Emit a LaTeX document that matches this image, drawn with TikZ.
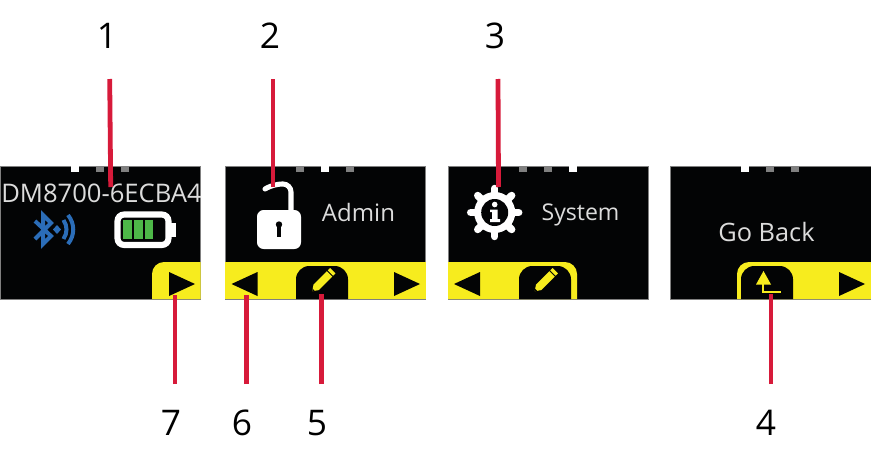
\documentclass[tikz,border=0pt]{standalone}
\usepackage{fontspec}
\setmainfont{Open Sans}
\definecolor{scr}{HTML}{030405}
\definecolor{ylw}{HTML}{F7EC1E}
\definecolor{redl}{HTML}{D71A3A}
\definecolor{dotg}{HTML}{808080}
\definecolor{txtg}{HTML}{DCDCDC}
\definecolor{blu}{HTML}{2B6DB8}
\definecolor{grn}{HTML}{4DB848}
\tikzset{
 screen/.style={fill=scr,draw=dotg,line width=0.4pt},
 dotw/.style={fill=white},
 dotgr/.style={fill=dotg},
 leader/.style={draw=redl,line width=3.6pt},
 num/.style={font=\fontsize{26.5}{30}\selectfont,text=black,inner sep=0pt},
 scrtxt/.style={text=txtg,inner sep=0pt,anchor=center},
 btline/.style={blu,line width=3pt},
}
\begin{document}
\begin{tikzpicture}[x=0.75pt,y=-0.75pt]
\useasboundingbox (0,0) rectangle (871,464);
\def\topdots#1#2#3#4{%
 \fill[#2] (#1,166) rectangle ++(8.4,6);
 \fill[#3] (#1+25,166) rectangle ++(8.4,6);
 \fill[#4] (#1+50,166) rectangle ++(8.4,6);}
\def\rtri#1{\fill[scr] (#1,272) -- (#1+26,284) -- (#1,296) -- cycle;}
\def\ltri#1{\fill[scr] (#1+26,272) -- (#1,284) -- (#1+26,296) -- cycle;}
\def\blacktab#1{\fill[scr] (#1,299) [rounded corners=10pt] -- (#1,266) -- (#1+52,266) [sharp corners] -- (#1+52,299) -- cycle;}
\def\pencil#1{\begin{scope}[shift={(#1,281)},rotate=45]
 \fill[ylw] (-14.5,0) -- (-9,-3.8) -- (10,-3.8) -- (10,3.8) -- (-9,3.8) -- cycle;
 \fill[ylw] (11.3,-3.8) rectangle (14.5,3.8);
 \fill[scr] (-14.5,0) -- (-12.5,-1.4) -- (-12.5,1.4) -- cycle;
 \end{scope}}
% screen 1
\draw[screen] (0,166) rectangle (200.5,299);
\topdots{71}{dotw}{dotgr}{dotgr}
\fill[ylw] (152,299) [rounded corners=9pt] -- (152,262) [sharp corners] -- (200.5,262) -- (200.5,299) -- cycle;
\rtri{169}
\node[scrtxt,font=\fontsize{19.2}{22}\selectfont] (t1) at (101.5,193) {DM8700-6ECBA4};
% bluetooth
\draw[btline,line join=miter] (35,221) -- (51,236) -- (43,244) -- (43,215) -- (51,223) -- (35,239);
\fill[blu] (57,225) -- (61,229.5) -- (57,234) -- (53,229.5) -- cycle;
\draw[btline] (63.5,220) .. controls (67.5,226) and (67.5,233) .. (63.5,239);
\draw[btline] (68,215) .. controls (75,224) and (75,235) .. (68,244);
% battery
\draw[white,line width=4.6pt,rounded corners=5pt] (117.5,214.5) rectangle (168.5,245);
\fill[white] (170,223) rectangle (175.5,237);
\fill[grn] (123,220) rectangle (132,239);
\fill[grn] (134,220) rectangle (142.5,239);
\fill[grn] (144.5,220) rectangle (153,239);
% screen 2
\draw[screen] (225.3,166) rectangle (425.7,299);
\topdots{296}{dotgr}{dotw}{dotgr}
\fill[ylw] (225.3,262) rectangle (425.7,299);
\blacktab{296}
\ltri{231.5}\rtri{394}
\pencil{322.5}
\fill[white,rounded corners=5pt] (257,210) rectangle (301,249);
\draw[white,line width=3.8pt,line cap=round,rounded corners=6pt] (291,212) -- (291,184) -- (274,184) -- (265,189);
\fill[scr] (279,224.5) circle (3.2);
\fill[scr] (277.3,225) rectangle (280.7,237);
\node[scrtxt,font=\fontsize{18}{20}\selectfont] (t2) at (358.5,212) {Admin};
% screen 3
\draw[screen] (448,166) rectangle (648.3,299);
\topdots{519}{dotgr}{dotgr}{dotw}
\fill[ylw] (448,299) -- (448,262) [rounded corners=9pt] -- (577,262) [sharp corners] -- (577,299) -- cycle;
\blacktab{519}
\ltri{454}
\pencil{545}
% gear
\foreach \a in {0,45,...,315}{
 \draw[white,line width=5.6pt,line cap=round] (494.7,212.5) -- ++(\a:24);
}
\fill[white] (494.7,212.5) circle (20.5);
\fill[scr] (494.7,212.5) circle (13.5);
\fill[white] (494.7,204.5) circle (2.8);
\fill[white] (490,209.5) -- (497.7,209.5) -- (497.7,219) -- (500,219) -- (500,222) -- (490,222) -- (490,219) -- (492.2,219) -- (492.2,212) -- (490,212) -- cycle;
\node[scrtxt,font=\fontsize{17.3}{20}\selectfont] (t3) at (580.5,215) {System};
% screen 4
\fill[scr] (670,166) rectangle (871,299);
\draw[dotg,line width=0.4pt] (871,166) -- (670,166) -- (670,299) -- (871,299);
\topdots{741}{dotw}{dotgr}{dotgr}
\fill[ylw] (737,299) [rounded corners=9pt] -- (737,262) [sharp corners] -- (871,262) -- (871,299) -- cycle;
\blacktab{741}
\rtri{839}
\fill[ylw] (756,284.5) -- (763.5,271) -- (771,284.5) -- cycle;
\draw[ylw,line width=1.6pt] (763,284) -- (763,292) -- (781,292);
\node[scrtxt,font=\fontsize{19}{22}\selectfont] (t4) at (766.5,232) {Go Back};
% numbers and leaders
\node[num] (n1) at (107,36) {1};
\node[num] (n2) at (270,36) {2};
\node[num] (n3) at (495,36) {3};
\node[num] (n7) at (171,423) {7};
\node[num] (n6) at (242,423) {6};
\node[num] (n5) at (317,423) {5};
\node[num] (n4) at (766,423) {4};
\coordinate (a1a) at (109.7,79); \coordinate (a1b) at (110.7,187);
\coordinate (a2a) at (273,79); \coordinate (a2b) at (273,187);
\coordinate (a3a) at (498,79); \coordinate (a3b) at (498.5,187);
\coordinate (a4a) at (771,384); \coordinate (a4b) at (771,294);
\coordinate (a5a) at (321.5,384); \coordinate (a5b) at (321.5,294);
\coordinate (a6a) at (246.5,384); \coordinate (a6b) at (246.5,295);
\coordinate (a7a) at (175,384); \coordinate (a7b) at (175,295);
\foreach \i in {1,...,7}{\draw[leader] (a\i a) -- (a\i b);}
\end{tikzpicture}
\end{document}
